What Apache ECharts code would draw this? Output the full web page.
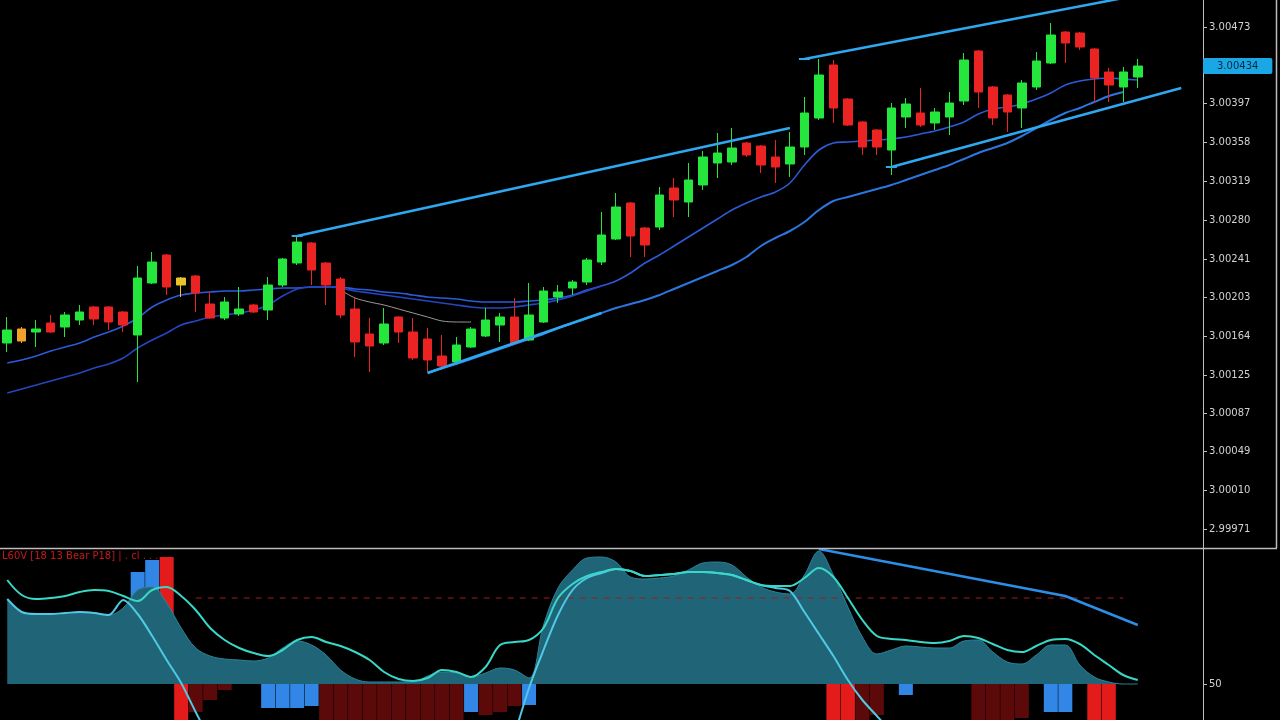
<!DOCTYPE html>
<html><head><meta charset="utf-8">
<script src="https://cdn.jsdelivr.net/npm/echarts@6/dist/echarts.min.js"></script>
<style>html,body{margin:0;padding:0;background:#000;}#c{width:1280px;height:720px;}</style>
</head><body><div id="c"></div>
<script>
// ---------- data ----------
const categories = Array.from({length: 83}, (_, i) => 'B' + (i + 1));

const open = [
3.00157,3.00159,3.00168,3.00177,3.00173,3.00180,3.00193,3.00193,3.00188,3.00165,
3.00217,3.00245,3.00215,3.00224,3.00196,3.00182,3.00186,3.00195,3.00190,3.00215,
3.00237,3.00257,3.00237,3.00221,3.00191,3.00166,3.00157,3.00183,3.00168,3.00161,
3.00144,3.00138,3.00153,3.00164,3.00175,3.00183,3.00160,3.00178,3.00203,3.00212,
3.00218,3.00238,3.00261,3.00297,3.00272,3.00273,3.00312,3.00298,3.00315,3.00337,
3.00338,3.00357,3.00354,3.00343,3.00336,3.00353,3.00382,3.00435,3.00401,3.00378,
3.00370,3.00350,3.00383,3.00387,3.00377,3.00383,3.00399,3.00449,3.00413,3.00405,
3.00392,3.00413,3.00437,3.00468,3.00467,3.00451,3.00428,3.00413,3.00423];
const close = [
3.00170,3.00171,3.00171,3.00168,3.00185,3.00188,3.00181,3.00178,3.00175,3.00222,
3.00238,3.00213,3.00222,3.00207,3.00182,3.00198,3.00191,3.00188,3.00215,3.00241,
3.00258,3.00230,3.00215,3.00185,3.00158,3.00154,3.00176,3.00168,3.00142,3.00140,
3.00134,3.00155,3.00171,3.00180,3.00183,3.00157,3.00185,3.00209,3.00208,3.00218,
3.00240,3.00265,3.00293,3.00264,3.00255,3.00305,3.00300,3.00320,3.00343,3.00347,
3.00352,3.00345,3.00335,3.00333,3.00353,3.00387,3.00425,3.00392,3.00375,3.00353,
3.00353,3.00392,3.00396,3.00375,3.00388,3.00397,3.00440,3.00408,3.00382,3.00388,
3.00417,3.00439,3.00465,3.00457,3.00453,3.00422,3.00415,3.00428,3.00434];
const high = [
3.00183,3.00173,3.00180,3.00185,3.00188,3.00195,3.00194,3.00194,3.00189,3.00234,
3.00248,3.00246,3.00223,3.00225,3.00208,3.00203,3.00213,3.00196,3.00223,3.00242,
3.00263,3.00258,3.00238,3.00223,3.00202,3.00182,3.00192,3.00184,3.00182,3.00172,
3.00165,3.00163,3.00173,3.00192,3.00187,3.00202,3.00217,3.00213,3.00215,3.00220,
3.00242,3.00288,3.00307,3.00298,3.00273,3.00313,3.00322,3.00337,3.00349,3.00367,
3.00372,3.00358,3.00355,3.00360,3.00368,3.00403,3.00441,3.00440,3.00402,3.00379,
3.00371,3.00397,3.00402,3.00412,3.00392,3.00408,3.00447,3.00450,3.00414,3.00406,
3.00420,3.00448,3.00477,3.00469,3.00468,3.00452,3.00432,3.00433,3.00441];
const low = [
3.00148,3.00157,3.00153,3.00167,3.00163,3.00175,3.00175,3.00170,3.00168,3.00118,
3.00216,3.00205,3.00203,3.00188,3.00181,3.00180,3.00184,3.00187,3.00180,3.00213,
3.00235,3.00215,3.00195,3.00182,3.00143,3.00128,3.00155,3.00157,3.00140,3.00128,
3.00130,3.00137,3.00152,3.00163,3.00158,3.00155,3.00159,3.00177,3.00197,3.00205,
3.00215,3.00235,3.00260,3.00243,3.00243,3.00270,3.00283,3.00283,3.00310,3.00322,
3.00335,3.00343,3.00327,3.00317,3.00323,3.00345,3.00380,3.00377,3.00374,3.00345,
3.00345,3.00325,3.00372,3.00373,3.00370,3.00365,3.00395,3.00392,3.00375,3.00368,
3.00372,3.00410,3.00436,3.00437,3.00450,3.00397,3.00398,3.00398,3.00412];
const candleTint = {1: '#f2a22a', 12: '#e9c22c'};

const maFast = [
3.00137,3.00140,3.00144,3.00149,3.00153,3.00157,3.00163,3.00168,3.00174,3.00182,
3.00193,3.00200,3.00205,3.00207,3.00208,3.00209,3.00209,3.00210,3.00211,3.00212,
3.00212,3.00213,3.00213,3.00213,3.00211,3.00210,3.00208,3.00207,3.00205,3.00203,
3.00202,3.00201,3.00199,3.00198,3.00198,3.00198,3.00199,3.00200,3.00202,3.00205,
3.00210,3.00214,3.00219,3.00227,3.00237,3.00245,3.00254,3.00263,3.00272,3.00281,
3.00290,3.00297,3.00303,3.00308,3.00317,3.00335,3.00350,3.00357,3.00358,3.00359,
3.00360,3.00361,3.00363,3.00366,3.00369,3.00373,3.00378,3.00386,3.00391,3.00393,
3.00396,3.00401,3.00407,3.00415,3.00419,3.00421,3.00422,3.00421,3.00420];
const maSlow = [
3.00107,3.00111,3.00115,3.00119,3.00123,3.00127,3.00132,3.00136,3.00142,3.00152,
3.00160,3.00167,3.00175,3.00179,3.00183,3.00185,3.00187,3.00190,3.00195,3.00204,
3.00211,3.00213,3.00213,3.00212,3.00209,3.00207,3.00205,3.00203,3.00201,3.00199,
3.00197,3.00195,3.00193,3.00192,3.00192,3.00193,3.00195,3.00197,3.00200,3.00204,
3.00209,3.00214];
const greyLineStart = 23;
const greyLine = [3.00210,3.00202,3.00198,3.00195,3.00191,3.00187,3.00183,3.00179,3.00178,3.00178];
const lowerBandStart = 29;
const lowerBand = [
3.00127,3.00132,3.00136,3.00141,3.00146,3.00151,3.00156,3.00161,3.00166,3.00172,
3.00177,3.00182,3.00187,3.00192,3.00196,3.00200,3.00205,3.00211,3.00217,3.00223,
3.00229,3.00235,3.00243,3.00254,3.00262,3.00269,3.00278,3.00290,3.00299,3.00303,
3.00307,3.00311,3.00315,3.00320,3.00325,3.00330,3.00335,3.00341,3.00347,3.00352,
3.00357,3.00364,3.00372,3.00380,3.00387,3.00392,3.00398,3.00404,3.00408];
const trendUpper1 = [[20, 3.00264], [54, 3.00372]];
const trendUpper2 = [[55, 3.00441], [77, 3.00502]];
const trendLower1 = [[29, 3.00127], [41, 3.00187]];
const trendLower2 = [[61, 3.00333], [81, 3.00412]];
const priceTicks = [2.99971,3.00010,3.00049,3.00087,3.00125,3.00164,3.00203,3.00241,3.00280,3.00319,3.00358,3.00397,3.00473];

// lower oscillator pane
const oscFill = [
92.5,86,85,85,85.5,86,85.5,84.5,88,97,
98.5,90.5,78,68,64,62.5,62,61.5,63,68,
71.5,69.5,64.5,57,52.5,51,51,51,51,54,
56,55.5,53.5,55.5,58,57,53,79.5,98,107,
113,113.5,111,103.5,102.5,103,104,107,110.5,111,
109.5,103.5,98.5,96,95,104.5,116.5,104.5,88.5,73.5,
65,67,69,68.5,68,68,71.5,72,66,61,
60,64.5,69.5,69.5,59.5,53.5,51,50,50];
const oscSignal = [
102,94.5,92.5,93,94,96,97,96.5,94,91.5,
97,98.5,94,87,78,72,68,65.5,64,67,
72,73.5,71,69,66,62,56,52.5,51.5,53,
57,56,53.5,58.5,69.5,71,72,78,93,100,
104,106,107.5,106.5,104,104.5,105,106,106,105.5,
104.5,102,99.5,99,99,103,108,103.5,93,82,
74,72.5,72,71,70.5,71.5,74,73,70,67,
66,69,72,72.5,70,64.5,59.5,54.5,52];
const oscFast = [
92.5,86,85,85,85.5,86,85.5,84.5,92,85,
74,62,50.5,36,22,null,null,null,null,null,
null,null,null,null,null,null,null,null,null,null,
null,null,null,null,null,24.5,48,67,84.5,97,
103,105.5,107.5,106.5,104,104.5,105,106,106,105.5,
104.5,102,99.5,98,96.5,86,75,64,52,42,
34,26];
const levelLine = [[13, 93], [77, 93]];
const oscTrend = [[56, 117.5], [73, 94], [78, 79.5]];
const histIndex = [9,10,11,12,13,14,15,18,19,20,21,22,23,24,25,26,27,28,29,30,31,32,33,34,35,36,57,58,59,60,62,67,68,69,70,72,73,75,76];
const histValue = [106,112,113.5,29.5,36,42,47,38,38,38,39,29.5,29.5,29.5,29.5,29.5,29.5,29.5,29.5,29.5,29.5,36,34.5,36,39,39.5,29.5,29.5,29.5,34.5,44.5,29.5,29.5,29.5,33,36,36,29.5,29.5];
const histKind  = ['b','b','r','r','d','d','d','b','b','b','b','d','d','d','d','d','d','d','d','d','d','b','d','d','d','b','r','r','d','d','b','d','d','d','d','b','b','r','r'];
const oscBase = 50;
const oscLabel = 'L60V [18 13 Bear P18] | . cl . . .';

// ---------- build ----------
const GREEN = '#25e63d', RED = '#ec2323';
const candleData = open.map((o, i) => {
  const item = {value: [o, close[i], low[i], high[i]]};
  if (candleTint[i]) {
    const c = candleTint[i];
    item.itemStyle = {color: c, color0: c, borderColor: c, borderColor0: c};
  }
  return item;
});
const lastClose = close[close.length - 1];
const histColors = {b: '#3186e6', r: '#e31b1b', d: '#5c0909'};
const histBase = histIndex.map(i => [i, oscBase]);
const histDelta = histIndex.map((idx, k) => ({
  value: [idx, histValue[k] - oscBase],
  itemStyle: {color: histColors[histKind[k]]}
}));
const startMark = (pts) => pts.map((p, k) => k === 0 ? {value: p, symbol: 'rect', symbolSize: [11, 2]} : {value: p});

const trendStyle = {color: '#2ea8f0', width: 2.5};
const lineBase = {type: 'line', xAxisIndex: 0, yAxisIndex: 0, symbol: 'none', showSymbol: false, animation: false, silent: true};

const option = {
  backgroundColor: '#000000',
  animation: false,
  grid: [
    {left: -1, top: 0, width: 1204, height: 548},
    {left: -1, top: 549, width: 1204, height: 171}
  ],
  xAxis: [
    {type: 'category', gridIndex: 0, data: categories, show: false, boundaryGap: true},
    {type: 'category', gridIndex: 1, data: categories, show: false, boundaryGap: true}
  ],
  yAxis: [
    {type: 'value', gridIndex: 0, position: 'right', min: 2.99952, max: 3.00500,
     splitLine: {show: false},
     axisLine: {show: true, lineStyle: {color: '#bdbdbd', width: 1}},
     axisTick: {show: true, customValues: priceTicks, length: 4, lineStyle: {color: '#bdbdbd'}},
     axisLabel: {customValues: priceTicks, formatter: v => v.toFixed(5), color: '#d2d2d2', fontSize: 10, margin: 6, fontFamily: 'DejaVu Sans'}},
    {type: 'value', gridIndex: 1, position: 'right', min: 32, max: 117.5,
     splitLine: {show: false},
     axisLine: {show: true, lineStyle: {color: '#bdbdbd', width: 1}},
     axisTick: {show: true, customValues: [oscBase], length: 4, lineStyle: {color: '#bdbdbd'}},
     axisLabel: {customValues: [oscBase], formatter: v => String(v), color: '#d2d2d2', fontSize: 10, margin: 6, fontFamily: 'DejaVu Sans'}}
  ],
  series: [
    {type: 'candlestick', xAxisIndex: 0, yAxisIndex: 0, data: candleData, barWidth: 9, z: 3,
     itemStyle: {color: GREEN, color0: RED, borderColor: GREEN, borderColor0: RED, borderWidth: 1}},
    Object.assign({}, lineBase, {data: maFast, smooth: 0.3, lineStyle: {color: '#2b5bd9', width: 1.6}, z: 2,
     markLine: {symbol: ['none', 'none'], silent: true, animation: false, precision: 5,
       lineStyle: {color: 'rgba(0,0,0,0)', width: 1, type: 'solid'},
       data: [{yAxis: lastClose}],
       label: {show: true, position: 'end', distance: 0, formatter: () => lastClose.toFixed(5),
               backgroundColor: '#1aa7e6', color: '#06283a', padding: [3, 14, 3, 14], fontSize: 10, fontFamily: 'DejaVu Sans', borderRadius: 2}}}),
    Object.assign({}, lineBase, {data: maSlow, smooth: 0.3, lineStyle: {color: '#2446c2', width: 1.6}, z: 2}),
    Object.assign({}, lineBase, {data: greyLine.map((v, k) => [greyLineStart + k, v]), smooth: 0.3, lineStyle: {color: '#9a9a9a', width: 1}, z: 2}),
    Object.assign({}, lineBase, {data: lowerBand.map((v, k) => [lowerBandStart + k, v]), smooth: 0.3, lineStyle: {color: '#2c76e0', width: 2}, z: 2}),
    Object.assign({}, lineBase, {data: startMark(trendUpper1), showSymbol: true, itemStyle: {color: '#2ea8f0'}, lineStyle: trendStyle, z: 4}),
    Object.assign({}, lineBase, {data: startMark(trendUpper2), showSymbol: true, itemStyle: {color: '#2ea8f0'}, lineStyle: trendStyle, z: 4}),
    Object.assign({}, lineBase, {data: trendLower1, lineStyle: trendStyle, z: 4}),
    Object.assign({}, lineBase, {data: startMark(trendLower2), showSymbol: true, itemStyle: {color: '#2ea8f0'}, lineStyle: trendStyle, z: 4}),

    // lower pane
    {type: 'bar', xAxisIndex: 1, yAxisIndex: 1, data: histBase, stack: 'h', stackStrategy: 'all', barWidth: 14,
     itemStyle: {color: 'rgba(0,0,0,0)'}, silent: true, z: 1},
    {type: 'bar', xAxisIndex: 1, yAxisIndex: 1, data: histDelta, stack: 'h', stackStrategy: 'all', barWidth: 14, silent: true, z: 1},
    {type: 'line', xAxisIndex: 1, yAxisIndex: 1, data: oscFill, symbol: 'none', smooth: 0.35, silent: true, z: 2,
     lineStyle: {color: '#2a8499', width: 1},
     areaStyle: {color: '#1f6477', opacity: 1, origin: oscBase}},
    {type: 'line', xAxisIndex: 1, yAxisIndex: 1, data: levelLine, symbol: 'none', silent: true, z: 3,
     lineStyle: {color: '#a01c1c', width: 1.2, type: [6, 6]}},
    {type: 'line', xAxisIndex: 1, yAxisIndex: 1, data: oscFast, symbol: 'none', smooth: 0.3, silent: true, z: 4,
     lineStyle: {color: '#4fc9e4', width: 2}},
    {type: 'line', xAxisIndex: 1, yAxisIndex: 1, data: oscSignal, symbol: 'none', smooth: 0.35, silent: true, z: 5,
     lineStyle: {color: '#38d8c8', width: 2}},
    {type: 'line', xAxisIndex: 1, yAxisIndex: 1, data: oscTrend, symbol: 'none', silent: true, z: 6,
     lineStyle: {color: '#2b8fe8', width: 2.5}}
  ],
  graphic: [
    {type: 'line', shape: {x1: 0, y1: 548.5, x2: 1277, y2: 548.5}, style: {stroke: '#bcbcbc', lineWidth: 1.5}, z: 10},
    {type: 'line', shape: {x1: 1276.5, y1: 0, x2: 1276.5, y2: 548}, style: {stroke: '#bcbcbc', lineWidth: 1.5}, z: 10},
    {type: 'text', left: 2, top: 551, style: {text: oscLabel, fill: '#c41a1a', font: '10px "DejaVu Sans"'}, z: 10}
  ]
};
const chart = echarts.init(document.getElementById('c'));
chart.setOption(option);
</script>
</body></html>
